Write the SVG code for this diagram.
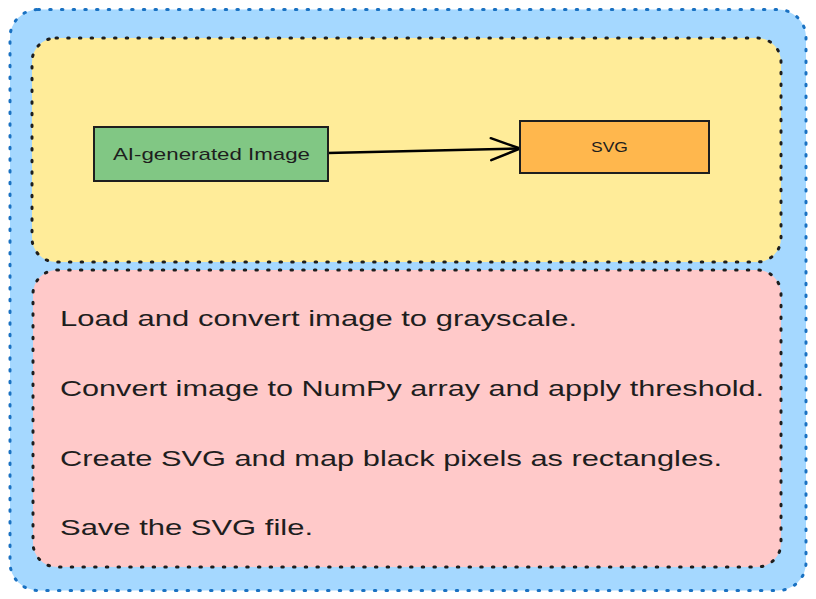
<svg xmlns="http://www.w3.org/2000/svg" width="816" height="599" viewBox="0 0 816 599">
<style>
.frame{stroke-width:3;stroke-linecap:round;stroke-dasharray:1.5 10.2}
.box{stroke:#1e1e1e;stroke-width:2}
.t{font-family:"Liberation Sans",Arial,sans-serif;fill:#1e1e1e}
.step{font-size:22px}
</style>
<defs>
<marker id="arrow" markerWidth="34" markerHeight="26" refX="31" refY="13" orient="auto" markerUnits="userSpaceOnUse">
<path d="M2,2 L31,13 L2,24" fill="none" stroke="#000" stroke-width="2.5" stroke-linecap="round" stroke-linejoin="round"/>
</marker>
</defs>
<rect width="816" height="599" fill="#ffffff"/>
<g id="outer">
<rect class="frame" x="10" y="9.5" width="796" height="581" rx="28" fill="#a5d8ff" stroke="#1971c2"/>
</g>
<g id="top-panel">
<rect class="frame" x="32" y="38" width="749" height="224" rx="24" fill="#ffec99" stroke="#1e1e1e"/>
</g>
<g id="bottom-panel">
<rect class="frame" x="33" y="270" width="748" height="297" rx="24" fill="#ffc9c9" stroke="#1e1e1e"/>
<text class="t step" x="60" y="326" textLength="517" lengthAdjust="spacingAndGlyphs">Load and convert image to grayscale.</text>
<text class="t step" x="60" y="396" textLength="704" lengthAdjust="spacingAndGlyphs">Convert image to NumPy array and apply threshold.</text>
<text class="t step" x="60" y="466" textLength="662" lengthAdjust="spacingAndGlyphs">Create SVG and map black pixels as rectangles.</text>
<text class="t step" x="60" y="535" textLength="253" lengthAdjust="spacingAndGlyphs">Save the SVG file.</text>
</g>
<g id="connectors">
<path d="M328,153 L520,148.5" fill="none" stroke="#000" stroke-width="2.5" stroke-linecap="round" marker-end="url(#arrow)"/>
</g>
<g id="node-ai-image">
<rect class="box" x="94" y="127" width="234" height="54" fill="#81c784"/>
<text class="t" x="211.5" y="160" font-size="17" text-anchor="middle" textLength="197" lengthAdjust="spacingAndGlyphs">AI-generated Image</text>
</g>
<g id="node-svg">
<rect class="box" x="520" y="121" width="189" height="52" fill="#ffb74d"/>
<text class="t" x="609.5" y="152" font-size="15" text-anchor="middle" textLength="37" lengthAdjust="spacingAndGlyphs">SVG</text>
</g>
</svg>
